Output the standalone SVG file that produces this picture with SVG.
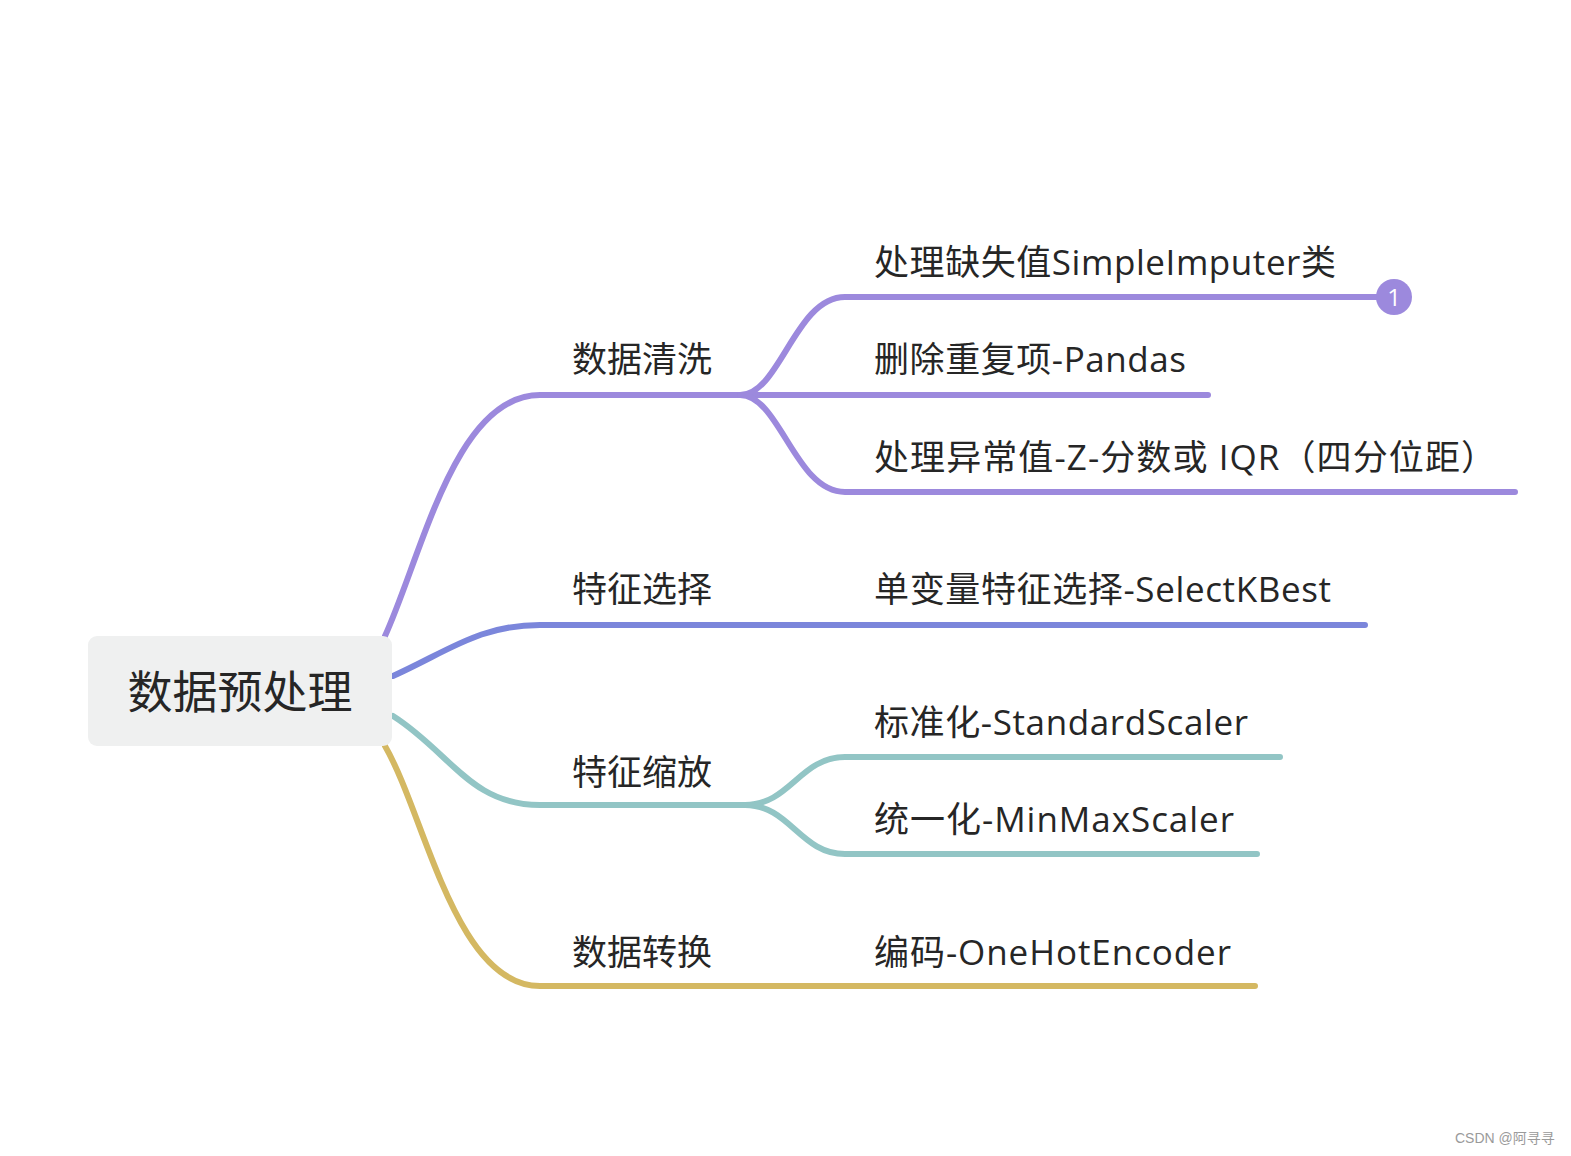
<svg xmlns="http://www.w3.org/2000/svg" width="1571" height="1156" viewBox="0 0 1571 1156">
<style>
.t{font-family:"Open Sans","Noto Sans CJK SC",sans-serif;font-size:35px;fill:#262626}
.root{font-family:"Open Sans","Noto Sans CJK SC",sans-serif;font-size:45px;fill:#262626}
.c{fill:none;stroke-width:6;stroke-linecap:round}
.p{stroke:#9c89dd}.b{stroke:#7b86db}.g{stroke:#92c5c5}.y{stroke:#d4b862}
.wm{font-family:"Liberation Sans","Noto Sans CJK SC",sans-serif;font-size:14px;fill:#9a9a9a}
</style>
<rect width="1571" height="1156" fill="#fff"/>
<g id="connectors">
<path class="c p" d="M385,636 C422,555 455,395 540,395 L745,395"/>
<path class="c p" d="M740,395 C780,395 795,297 845,297 L1380,297"/>
<path class="c p" d="M740,395 L1208,395"/>
<path class="c p" d="M740,395 C780,395 795,492 845,492 L1515,492"/>
<path class="c b" d="M393,676 C450,650 480,625 540,625 L1365,625"/>
<path class="c g" d="M393,716 C450,752 470,805 540,805 L750,805"/>
<path class="c g" d="M745,805 C790,805 800,757 845,757 L1280,757"/>
<path class="c g" d="M745,805 C790,805 800,854 845,854 L1257,854"/>
<path class="c y" d="M385,746 C425,815 455,986 540,986 L1255,986"/>
</g>
<g id="root">
<rect x="88" y="636" width="304" height="110" rx="9" fill="#eff0f0"/>
<text class="root" x="240" y="709" text-anchor="middle">数据预处理</text>
</g>
<g id="n-clean"><text class="t" x="572" y="372">数据清洗</text></g>
<g id="n-missing"><text class="t" x="874" y="275" textLength="462" lengthAdjust="spacing">处理缺失值SimpleImputer类</text>
<circle cx="1394" cy="297" r="18" fill="#9c89dd"/>
<text x="1394" y="306" text-anchor="middle" font-family="'Open Sans',sans-serif" font-size="24" fill="#fff">1</text></g>
<g id="n-dup"><text class="t" x="874" y="372" textLength="312" lengthAdjust="spacing">删除重复项-Pandas</text></g>
<g id="n-outlier"><text class="t" x="874" y="470" textLength="622" lengthAdjust="spacing">处理异常值-Z-分数或 IQR（四分位距）</text></g>
<g id="n-select"><text class="t" x="572" y="602">特征选择</text></g>
<g id="n-kbest"><text class="t" x="874" y="602" textLength="457" lengthAdjust="spacing">单变量特征选择-SelectKBest</text></g>
<g id="n-scale"><text class="t" x="572" y="785">特征缩放</text></g>
<g id="n-std"><text class="t" x="874" y="735" textLength="374" lengthAdjust="spacing">标准化-StandardScaler</text></g>
<g id="n-minmax"><text class="t" x="874" y="832" textLength="360" lengthAdjust="spacing">统一化-MinMaxScaler</text></g>
<g id="n-trans"><text class="t" x="572" y="965">数据转换</text></g>
<g id="n-onehot"><text class="t" x="874" y="965" textLength="357" lengthAdjust="spacing">编码-OneHotEncoder</text></g>
<text class="wm" x="1455" y="1143">CSDN @阿寻寻</text>
</svg>
